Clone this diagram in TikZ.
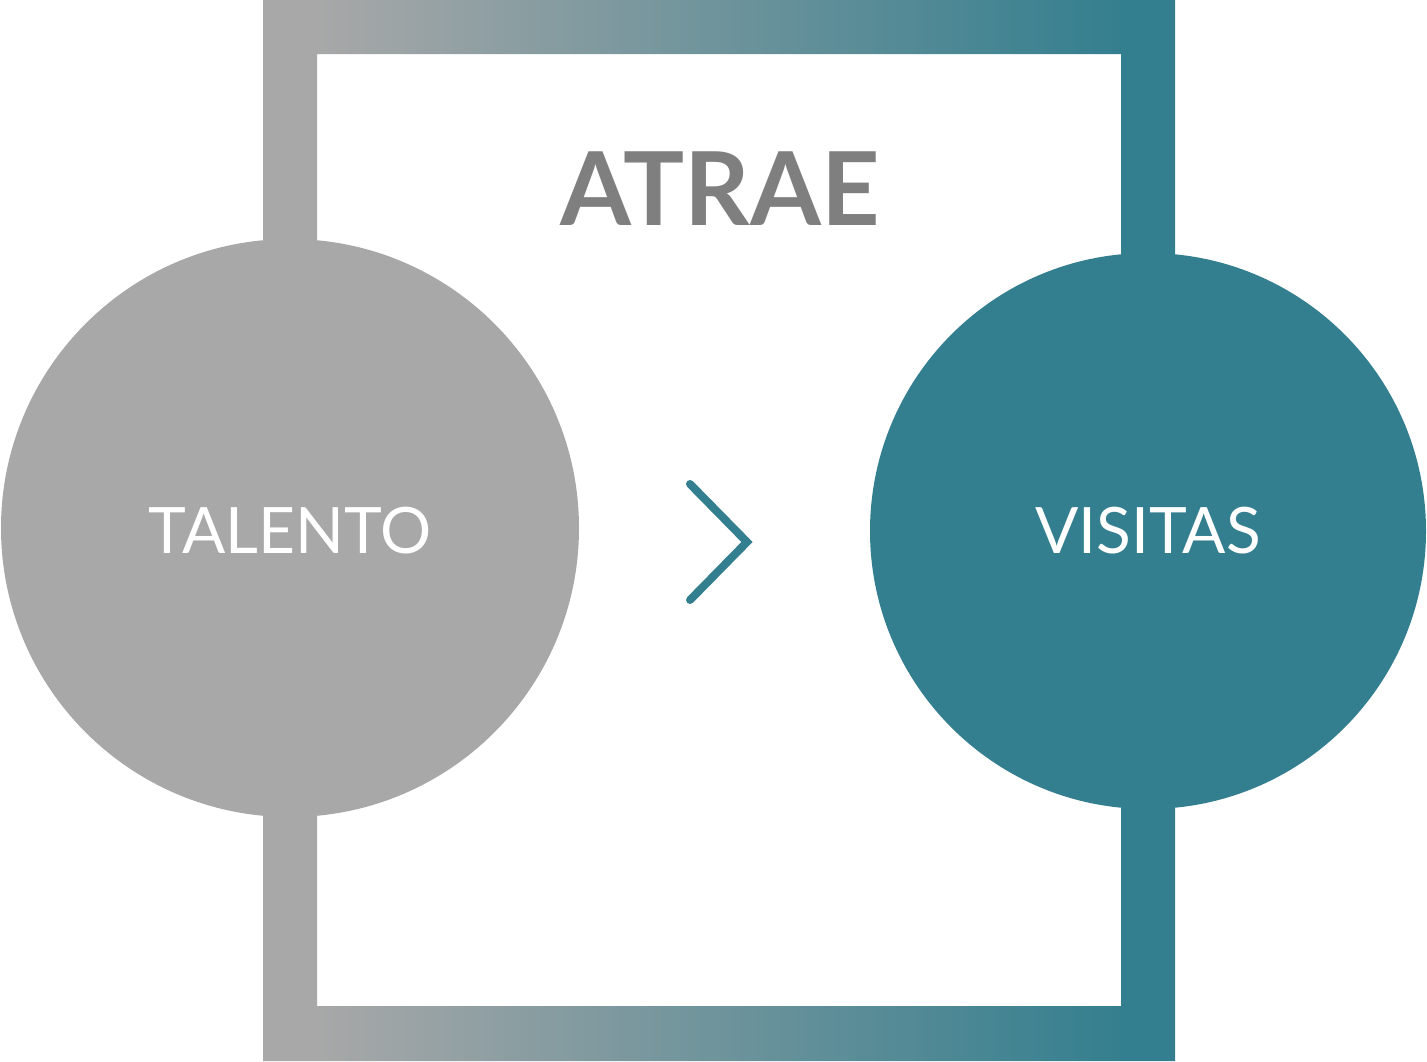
\documentclass[tikz,border=0pt]{standalone}
\usepackage{fontspec}
\setmainfont{Lato}
\usepackage{xcolor}
\usetikzlibrary{positioning}

\definecolor{circgray}{HTML}{A8A8A8}
\definecolor{circteal}{HTML}{347F8F}
\definecolor{titlegray}{HTML}{7F7F7F}
\pgfdeclarehorizontalshading{framefade}{100bp}{color(0bp)=(circgray); color(27.9bp)=(circgray); color(72.1bp)=(circteal); color(100bp)=(circteal)}

\tikzset{
    bubble/.style={circle, inner sep=0pt},
    bubbletext/.style={anchor=base, inner sep=0pt, text=white, font=\fontsize{64}{64}\selectfont},
}

\begin{document}
\begin{tikzpicture}[x=1pt, y=-1pt]
    \useasboundingbox (0,0) rectangle (1427,1061) ;
    % frame with fade from gray to teal
    \shade[shading=framefade, even odd rule] (263,0) rectangle (1175,1061) (317,54) rectangle (1121,1006) ;
    \node[bubble, fill=circgray, minimum size=578pt] (talento) at (290,528) {} ;
    \node[bubble, fill=circteal, minimum size=556pt] (visitas) at (1148,531) {} ;
    \node[bubbletext] (talentotext) at (290,553) {TALENTO} ;
    \node[bubbletext] (visitastext) at (1148,553) {VISITAS} ;
    \node[anchor=base, inner sep=0pt, text=titlegray, font=\fontsize{102}{102}\bfseries\selectfont] (atrae) at (720,225) {ATRAE} ;
    \draw[circteal, line width=8pt, line cap=round] (690,484) -- (747,542) -- (690,600) ;
\end{tikzpicture}
\end{document}
